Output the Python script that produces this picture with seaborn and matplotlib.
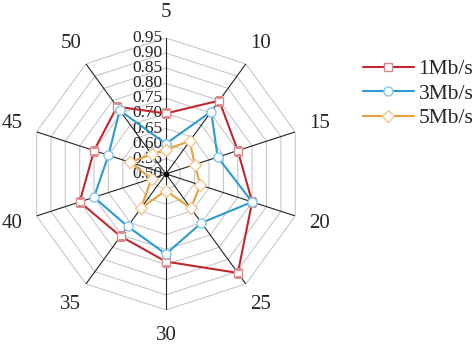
import numpy as np
import pandas as pd
import matplotlib
matplotlib.use("Agg")
import matplotlib.pyplot as plt
import seaborn as sns

categories = ["5", "10", "15", "20", "25", "30", "35", "40", "45", "50"]
series_names = ["1Mb/s", "3Mb/s", "5Mb/s"]
v_1mb = [0.70, 0.80, 0.75, 0.80, 0.905, 0.79, 0.755, 0.80, 0.75, 0.775]
v_3mb = [0.60, 0.755, 0.68, 0.80, 0.70, 0.765, 0.715, 0.75, 0.70, 0.76]
v_5mb = [0.58, 0.635, 0.60, 0.62, 0.64, 0.555, 0.64, 0.55, 0.625, 0.58]
r_ticks = [0.50, 0.55, 0.60, 0.65, 0.70, 0.75, 0.80, 0.85, 0.90, 0.95]

sns.set_style("white")
plt.rcParams["font.family"] = ["Liberation Serif", "DejaVu Serif"]

fig = plt.figure(figsize=(4.74, 3.51), dpi=100)
ax = fig.add_axes([0.063, 0.117, 0.574, 0.775], projection="polar")
ax.set_theta_offset(np.pi / 2)
ax.set_theta_direction(-1)

n = len(categories)
theta = np.linspace(0, 2 * np.pi, n, endpoint=False)
theta_closed = np.append(theta, 2 * np.pi)

ax.grid(False)
ax.spines["polar"].set_visible(False)
ax.set_ylim(r_ticks[0], r_ticks[-1])

# polygon rings
for r in r_ticks[1:]:
    ax.plot(theta_closed, [r] * (n + 1), color="#c8c8c8", lw=0.8, zorder=1)
# spokes
for t in theta:
    ax.plot([t, t], [r_ticks[0], r_ticks[-1]], color="#222222", lw=0.8, zorder=2)

styles = {
    "1Mb/s": dict(color="#c2262e", marker="s", mec="#d98a8c", ms=6),
    "3Mb/s": dict(color="#2e9ad0", marker="o", mec="#86c6e6", ms=6.5),
    "5Mb/s": dict(color="#e2a23c", marker="D", mec="#f0c890", ms=6),
}
for name, vals in zip(series_names, [v_1mb, v_3mb, v_5mb]):
    df = pd.DataFrame({"theta": theta_closed, "value": list(vals) + [vals[0]]})
    st = styles[name]
    sns.lineplot(data=df, x="theta", y="value", sort=False, estimator=None,
                 ax=ax, color=st["color"], lw=1.5, marker=st["marker"],
                 markersize=st["ms"], markerfacecolor="white",
                 markeredgecolor=st["mec"], markeredgewidth=1.0,
                 label=name, zorder=3)

ax.set_xlabel("")
ax.set_ylabel("")
ax.set_xticks(theta)
ax.set_xticklabels(categories, fontsize=15)
ax.tick_params(axis="x", pad=8)
ax.set_yticks(r_ticks)
ax.set_yticklabels([])
for r in r_ticks:
    ax.annotate(f"{r:.2f}", xy=(0, r), xytext=(-2.5, 0), textcoords="offset points",
                ha="right", va="center", fontsize=12.5, color="#222222", zorder=2.5)
ax.plot([0], [r_ticks[0]], marker="o", color="black", ms=3, zorder=4)

ax.get_legend().remove()
h, l = ax.get_legend_handles_labels()
fig.legend(h, l, loc="center left", bbox_to_anchor=(0.765, 0.733), frameon=False,
           fontsize=15.5, handlelength=2.4, handletextpad=0.2, labelspacing=0.2,
           borderpad=0, borderaxespad=0)

fig.savefig("out.png", dpi=100)
